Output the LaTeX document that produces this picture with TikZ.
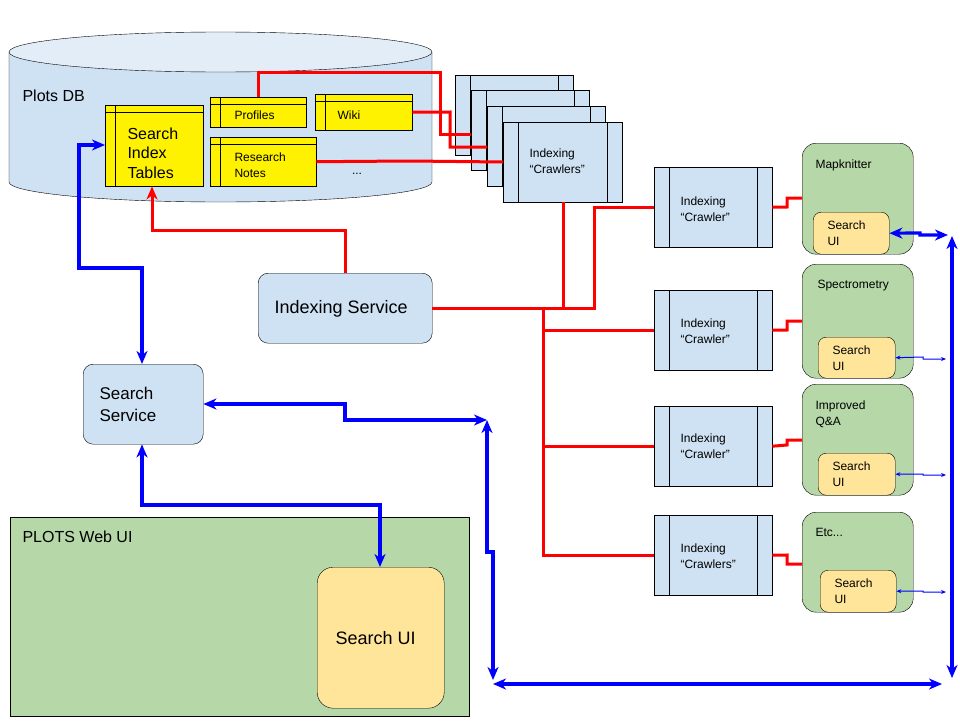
\documentclass[tikz,border=0pt]{standalone}
\usepackage{fontspec}
\setmainfont{Liberation Sans}
\usetikzlibrary{arrows.meta}
\definecolor{lb}{HTML}{CFE2F3}
\definecolor{lbt}{HTML}{E3EDF7}
\definecolor{gr}{HTML}{B6D7A8}
\definecolor{tan}{HTML}{FFE599}
\begin{document}
\begin{tikzpicture}[x=1pt,y=-1pt,
  sm/.style={font=\fontsize{12}{16}\selectfont},
  lg/.style={font=\fontsize{18}{22}\selectfont},
  md/.style={font=\fontsize{16}{21}\selectfont},
  tbl/.style={draw,fill=yellow,anchor=north west,inner sep=0,align=left,sm,
    path picture={\draw ([yshift=-7pt]path picture bounding box.north west)--([yshift=-7pt]path picture bounding box.north east);
     \draw ([xshift=10pt]path picture bounding box.north west)--([xshift=10pt]path picture bounding box.south west);}},
  crw/.style={draw,fill=lb,anchor=north west,inner sep=0,align=left,sm,
    path picture={\draw ([xshift=15pt]path picture bounding box.north west)--([xshift=15pt]path picture bounding box.south west);
     \draw ([xshift=-15pt]path picture bounding box.north east)--([xshift=-15pt]path picture bounding box.south east);}},
  clab/.style={sm,anchor=west,align=left},
  svc/.style={draw,fill=lb,rounded corners=10pt,anchor=north west,align=left},
  app/.style={draw,fill=gr,rounded corners=14pt,anchor=north west},
  sui/.style={draw,fill=tan,rounded corners=8pt,anchor=north west},
  rl/.style={red,line width=3pt},
  bl/.style={blue,line width=3.2pt},
  tbl2/.style={blue,line width=1pt},
  ar/.style={-{Stealth[length=13pt,width=11pt,inset=4pt]}},
  dar/.style={{Stealth[length=13pt,width=11pt,inset=4pt]}-{Stealth[length=13pt,width=11pt,inset=4pt]}},
  sdar/.style={{Stealth[length=5pt,width=4pt]}-{Stealth[length=5pt,width=4pt]}}]
\useasboundingbox (0,0) rectangle (960,720);
% DB cylinder
\draw[fill=lb] (9,52) -- (9,182) arc[x radius=211.5,y radius=20,start angle=180,end angle=0] -- (432,52);
\draw[fill=lbt] (220.5,52) ellipse[x radius=211.5,y radius=20];
\node[md,anchor=west] (dbl) at (19,96) {Plots DB};
\node[tbl,minimum width=98pt,minimum height=81pt] (sit) at (105,105) {};
\node[md,anchor=west,align=left,font=\fontsize{16}{19.5}\selectfont] (sitl) at (124,153) {Search\\Index\\Tables};
\node[tbl,minimum width=96pt,minimum height=30pt] (prof) at (210,97) {};
\node[clab] (profl) at (231,115) {Profiles};
\node[tbl,minimum width=97pt,minimum height=36pt] (wiki) at (315,94) {};
\node[clab] (wikil) at (334,115) {Wiki};
\node[tbl,minimum width=106pt,minimum height=49pt] (rn) at (210,137) {};
\node[clab] (rnl) at (231,165) {Research\\Notes};
\node[sm] (dots) at (357,174) {...};
% crawler stack
\node[crw,minimum width=118pt,minimum height=80pt] (c1) at (455,75) {};
\node[crw,minimum width=118pt,minimum height=80pt] (c2) at (471,90) {};
\node[crw,minimum width=118pt,minimum height=80pt] (c3) at (487,106) {};
\node[crw,minimum width=119pt,minimum height=80pt] (c4) at (503,122) {};
\node[clab] (c4l) at (526,161) {Indexing\\“Crawlers”};
\draw[rl] (prof.north) -- ++(0,-25) -| (440,134) -- (c2.west |- 0,134);
\draw[rl] (wiki.east) -- (450,112) |- (c3.west |- 0,147);
\draw[rl] (rn.east) -- (410,161) -- (c4.west |- 0,162);
% indexing service
\node[svc,lg,minimum width=174pt,minimum height=70pt] (is) at (258,273) {};
\node[lg,anchor=west] (isl) at (271,309) {Indexing Service};
\draw[rl,ar] (is.north -| 345,0) -- (345,230) -| (sit.south -| 152,0);
% right crawlers
\node[crw,minimum width=118pt,minimum height=80pt] (k1) at (654,167) {};
\node[crw,minimum width=118pt,minimum height=80pt] (k2) at (654,290) {};
\node[crw,minimum width=118pt,minimum height=80pt] (k3) at (654,406) {};
\node[crw,minimum width=118pt,minimum height=80pt] (k4) at (654,515) {};
\node[clab] (k1l) at (677,209) {Indexing\\“Crawler”};
\node[clab] (k2l) at (677,331) {Indexing\\“Crawler”};
\node[clab] (k3l) at (677,446) {Indexing\\“Crawler”};
\node[clab] (k4l) at (677,556) {Indexing\\“Crawlers”};
\coordinate (j1) at (563,308);
\coordinate (j2) at (543,308);
\draw[rl] (is.east |- j1) -- (j1) -- (c4.south -| j1);
\draw[rl] (j1) -- (594,308) |- (k1.west);
\draw[rl] (j2) |- (k4.west);
\draw[rl] (j2 |- k2.west) -- (k2.west);
\draw[rl] (j2 |- k3.west) -- (k3.west);
% apps
\node[app,minimum width=111pt,minimum height=111pt] (a1) at (802,143) {};
\node[app,minimum width=111pt,minimum height=114pt] (a2) at (802,264) {};
\node[app,minimum width=111pt,minimum height=111pt] (a3) at (802,384) {};
\node[app,minimum width=111pt,minimum height=100pt] (a4) at (802,512) {};
\node[sm,anchor=north west,align=left] (t1) at (812,156) {Mapknitter};
\node[sm,anchor=north west,align=left] (t2) at (814,277) {Spectrometry};
\node[sm,anchor=north west,align=left] (t3) at (812,397) {Improved\\Q\&A};
\node[sm,anchor=north west,align=left] (t4) at (812,525) {Etc...};
\node[sui,minimum width=76pt,minimum height=42pt] (u1) at (813,212) {};
\node[sui,minimum width=77pt,minimum height=41pt] (u2) at (818,337) {};
\node[sui,minimum width=77pt,minimum height=42pt] (u3) at (818,453) {};
\node[sui,minimum width=76pt,minimum height=42pt] (u4) at (820,570) {};
\node[clab] (u1l) at (824,233) {Search\\UI};
\node[clab] (u2l) at (829,358) {Search\\UI};
\node[clab] (u3l) at (829,474) {Search\\UI};
\node[clab] (u4l) at (831,591) {Search\\UI};
\draw[rl] (k1.east) -- (787,207) |- (a1.west |- 0,198);
\draw[rl] (k2.east) -- (787,330) |- (a2.west |- 0,321);
\draw[rl] (k3.east) -- (787,445) |- (a3.west |- 0,440);
\draw[rl] (k4.east) -- (787,555) |- (a4.west |- 0,564);
% search service & web ui
\node[svc,minimum width=120pt,minimum height=80pt] (ss) at (83,364) {};
\node[md,anchor=west,align=left,font=\fontsize{17}{22}\selectfont] (ssl) at (96,404) {Search\\Service};
\node[draw,fill=gr,anchor=north west,minimum width=459pt,minimum height=199pt] (web) at (10,517) {};
\node[md,anchor=west] (webl) at (19,537) {PLOTS Web UI};
\node[draw,fill=tan,rounded corners=16pt,anchor=north west,minimum width=127pt,minimum height=141pt] (bui) at (317,567) {};
\node[lg,anchor=west] (buil) at (332,638) {Search UI};
% blue connectors
\coordinate (b1) at (487,420);
\coordinate (b2) at (493,684);
\coordinate (b3) at (942,684);
\coordinate (b4) at (952,236);
\coordinate (b5) at (952,678);
\draw[bl,dar] (sit.west |- 0,145) -- (79,145) |- (142,268) -- (ss.north -| 142,0);
\draw[bl,dar] (ss.east |- 0,404) -- (345,404) |- (b1);
\draw[bl,dar] (b1) -- (487,552) -- (493,552) -- (493,680);
\draw[bl,dar] (b2) -- (b3);
\draw[bl,dar] (b4) -- (b5);
\draw[bl,dar] (ss.south -| 142,0) -- (142,505) -| (bui.north -| 380,0);
\draw[bl,dar] (u1.east) -- (920,233) -- (920,235) -- (948,235);
\draw[tbl2,sdar] (u2.east) -- (923,357) -- (923,359) -- (946,359);
\draw[tbl2,sdar] (u3.east) -- (923,474) -- (923,475) -- (946,475);
\draw[tbl2,sdar] (u4.east) -- (923,591) -- (923,592) -- (946,592);
\end{tikzpicture}
\end{document}
